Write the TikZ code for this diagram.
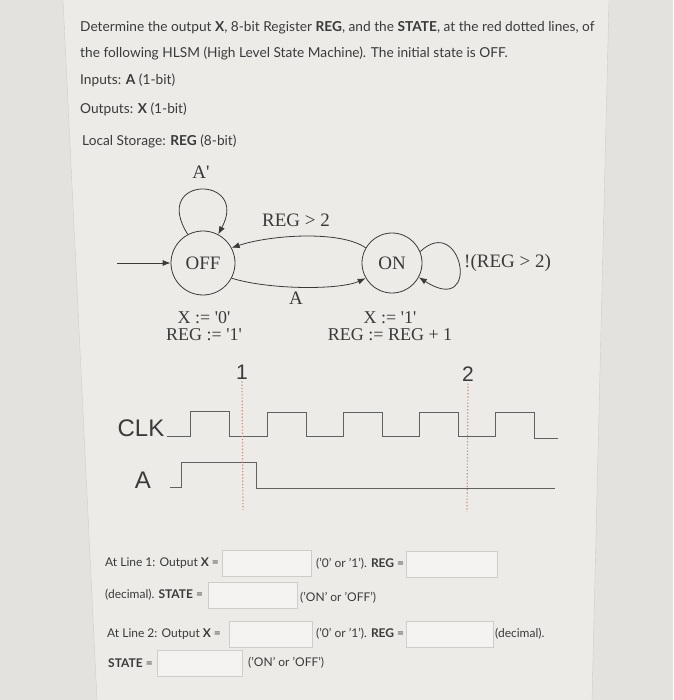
\documentclass[tikz,border=0pt]{standalone}
\usepackage{fontspec}
\setmainfont{Lato}
\newfontfamily\tms{Liberation Serif}
\newfontfamily\arl{Liberation Sans}
\usetikzlibrary{arrows.meta}
\definecolor{bg}{HTML}{E4E2DE}
\definecolor{pg}{HTML}{EDEBE8}
\definecolor{ink}{HTML}{3A3A3A}
\definecolor{reddot}{HTML}{D08A78}
\definecolor{boxln}{HTML}{CFCDC9}
\begin{document}
\begin{tikzpicture}[x=1pt,y=-1pt,
  txt/.style={anchor=west,inner sep=0,text=ink,font=\fontsize{13.7}{15}\selectfont},
  ftxt/.style={anchor=west,inner sep=0,text=ink,font=\fontsize{12}{13}\selectfont},
  st/.style={circle,draw=ink,thick,minimum size=64pt,inner sep=0,text=ink,font=\tms\fontsize{19}{20}\selectfont},
  dtxt/.style={inner sep=0,text=ink,font=\tms\fontsize{19}{20}\selectfont},
  atxt/.style={inner sep=0,text=ink,font=\tms\fontsize{18}{18}\selectfont},
  arr/.style={-{Latex[length=8pt,width=6pt]},draw=ink,thick},
  wave/.style={draw=ink!80,line width=1pt},
  dotl/.style={draw=reddot,line width=1.2pt,dotted},
  abox/.style={draw=boxln,fill=pg!60!white,line width=0.8pt}]
\useasboundingbox (0,0) rectangle (673,700);
\fill[bg] (0,0) rectangle (673,700);
\fill[pg] (63,0) -- (609,0) -- (592,700) -- (97,700) -- cycle;
\draw[boxln] (63,0) -- (97,700) (609,0) -- (592,700);
% header
\node[txt] (t1) at (80,28) {Determine the output \textbf{X}, 8-bit Register \textbf{REG}, and the \textbf{STATE}, at the red dotted lines, of};
\node[txt] (t2) at (80,53) {the following HLSM (High Level State Machine). The initial state is OFF.};
\node[txt] (t3) at (80,80) {Inputs: \textbf{A} (1-bit)};
\node[txt] (t4) at (80,109) {Outputs: \textbf{X} (1-bit)};
\node[txt] (t5) at (82,141) {Local Storage: \textbf{REG} (8-bit)};
% state machine
\node[st] (off) at (203,263) {OFF};
\node[st,minimum size=60pt] (on) at (392,263) {ON};
\coordinate (init) at (117,263);
\draw[arr] (init) -- (off);
\draw[arr] (off.118) .. controls (150,175) and (250,175) .. (off.62);
\node[dtxt] (lA1) at (201,172) {A'};
\draw[arr] (on.22) .. controls (462,212) and (482,318) .. (on.-28);
\node[dtxt,anchor=west] (lnr) at (464,263) {!(REG > 2)};
\draw[arr] (on.150) .. controls (340,230) and (270,235) .. (off.28);
\draw[arr] (off.-28) .. controls (270,290) and (340,290) .. (on.-150);
\node[dtxt] (lreg) at (296,220) {REG > 2};
\node[dtxt] (lA) at (296,298) {A};
\node[atxt] (aoff1) at (204,318) {X := '0'};
\node[atxt] (aoff2) at (204,335) {REG := '1'};
\node[atxt] (aon1) at (390,318) {X := '1'};
\node[atxt] (aon2) at (390,335) {REG := REG + 1};
% timing
\node[inner sep=0,text=ink,font=\arl\fontsize{24}{25}\selectfont] (clk) at (141,428) {CLK};
\node[inner sep=0,text=ink,font=\arl\fontsize{24}{25}\selectfont] (sa) at (143,480) {A};
\draw[wave] (167,436) -- (190,436) -- (190,411) -- (229,411) -- (229,436)
  -- (267,436) -- (267,412) -- (306,412) -- (306,436)
  -- (343,436) -- (343,412) -- (382,412) -- (382,436)
  -- (419,436) -- (419,412) -- (458,412) -- (458,436)
  -- (495,436) -- (495,412) -- (534,412) -- (534,438) -- (558,438);
\draw[wave] (170,487) -- (181,487) -- (181,462) -- (256,462) -- (256,488) -- (555,488);
\node[inner sep=0,text=ink,font=\arl\fontsize{21}{22}\selectfont] (n1) at (242,372) {1};
\node[inner sep=0,text=ink,font=\arl\fontsize{21}{22}\selectfont] (n2) at (468,374) {2};
\coordinate (d1) at (243,510);
\coordinate (d2) at (467,512);
\draw[dotl] (n1.south) ++(0,2) -- (d1);
\draw[dotl] (n2.south) ++(0,2) -- (d2);
% form
\node[ftxt] (f1) at (105,563) {At Line 1: Output \textbf{X} =};
\draw[abox] (222,550) rectangle (311,576);
\node[ftxt] (f2) at (316,564) {('0' or '1'). \textbf{REG} =};
\draw[abox] (406,551) rectangle (497,577);
\node[ftxt] (f3) at (105,595) {(decimal). \textbf{STATE} =};
\draw[abox] (208,582) rectangle (297,608);
\node[ftxt] (f4) at (300,598) {('ON' or 'OFF')};
\node[ftxt] (f5) at (107,634) {At Line 2: Output \textbf{X} =};
\draw[abox] (229,621) rectangle (312,647);
\node[ftxt] (f6) at (316,634) {('0' or '1'). \textbf{REG} =};
\draw[abox] (406,621) rectangle (493,647);
\node[ftxt] (f7) at (495,634) {(decimal).};
\node[ftxt] (f8) at (108,663) {\textbf{STATE} =};
\draw[abox] (157,650) rectangle (242,676);
\node[ftxt] (f9) at (248,663) {('ON' or 'OFF')};
\end{tikzpicture}
\end{document}
